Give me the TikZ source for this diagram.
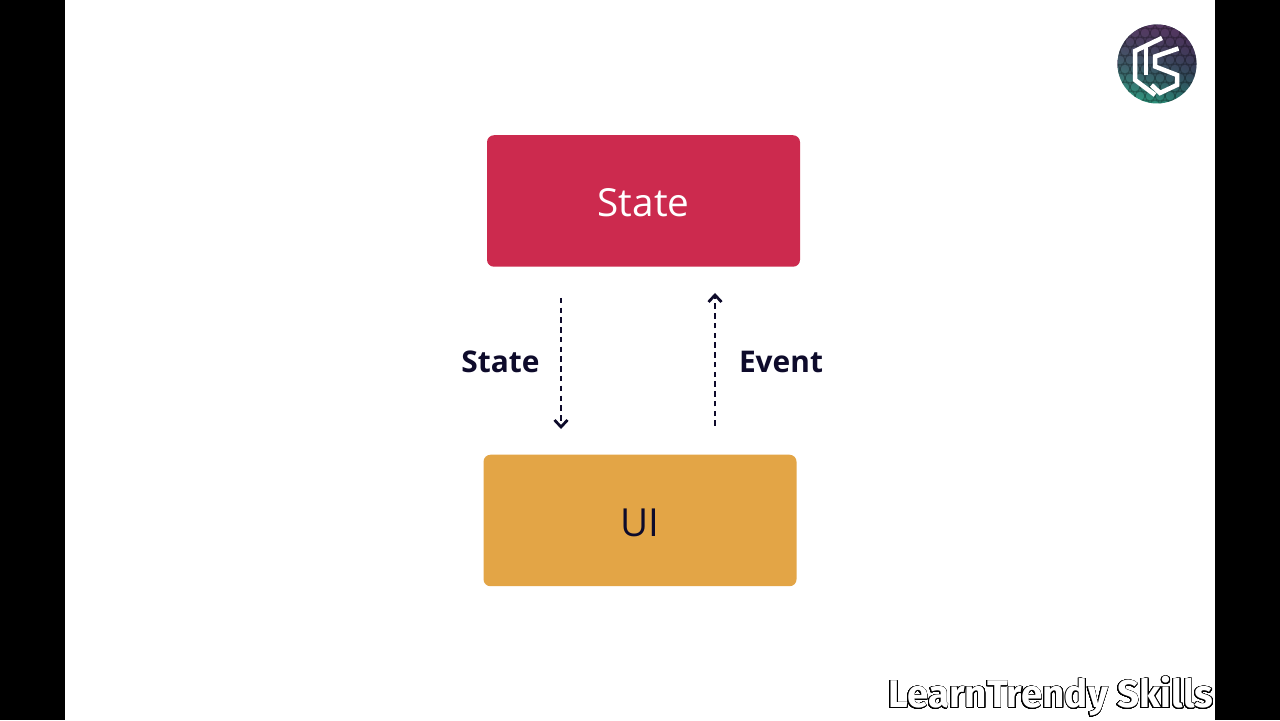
\documentclass[tikz,border=0pt]{standalone}
\usepackage{fontspec}
\usepackage[copies]{contour}
\setmainfont{Open Sans}
\newfontfamily\wmfont{Fira Sans}
\usetikzlibrary{calc,fadings}
\definecolor{stateRed}{HTML}{CC2A4E}
\definecolor{uiOrange}{HTML}{E3A546}
\definecolor{inkBlue}{HTML}{0E0B2B}
\definecolor{logoDark}{HTML}{16263F}
\definecolor{logoPlum}{HTML}{5E3A66}
\definecolor{logoTeal}{HTML}{2F9A80}
\tikzset{
	box/.style={rounded corners=0.14cm, minimum width=6.26cm, minimum height=2.63cm, inner sep=0pt, text height=0.64cm, text depth=0cm, font=\fontsize{22}{26}\selectfont},
	flowlabel/.style={inner sep=0pt, text=inkBlue, font=\fontsize{17}{20}\selectfont\bfseries},
	flowline/.style={line width=0.058cm, color=inkBlue, dash pattern=on 0.11cm off 0.085cm},
	flowtip/.style={line width=0.055cm, color=inkBlue, line join=miter},
	logoline/.style={line width=0.09cm, color=white, line join=miter}
}
\contourlength{0.45pt}
\contournumber{32}
\begin{document}
\begin{tikzpicture}
		%%%%% START %%%%%
		\useasboundingbox (0, 0) rectangle (25.6, 14.4);
		\fill[white] (0, 0) rectangle (25.6, 14.4);
		\fill[black] (0, 0) rectangle (1.3, 14.4);
		\fill[black] (24.3, 0) rectangle (25.6, 14.4);
		
		\node[box, fill=stateRed, text=white] (stateBox) at (12.87, 10.38) {State};
		\node[box, fill=uiOrange, text=inkBlue] (uiBox) at (12.8, 3.99) {UI};
		
		\node[flowlabel] (stateLabel) at (10.01, 7.16) {State};
		\node[flowlabel] (eventLabel) at (15.62, 7.16) {Event};
		
		\coordinate (stateStart) at (11.22, 8.44);
		\coordinate (stateEnd) at (11.22, 5.86);
		\coordinate (eventStart) at (14.3, 5.88);
		\coordinate (eventEnd) at (14.3, 8.5);
		
		\draw[flowline] (stateStart) -- (stateEnd);
		\draw[flowtip] ($(stateEnd)+(-0.13, 0.14)$) -- (stateEnd) -- ($(stateEnd)+(0.13, 0.14)$);
		\draw[flowline] (eventStart) -- (eventEnd);
		\draw[flowtip] ($(eventEnd)+(-0.13, -0.14)$) -- (eventEnd) -- ($(eventEnd)+(0.13, -0.14)$);
		
		% logo
		\coordinate (logoMid) at (23.14, 13.12);
		\shade[left color=logoDark, right color=logoTeal, shading angle=-35] (logoMid) circle (0.79);
		\shade[top color=logoPlum, bottom color=logoPlum, path fading=south, opacity=0.9] (logoMid) circle (0.79);
		\begin{scope}
			\clip (logoMid) circle (0.79);
			\foreach \i in {0,...,9}
				\foreach \j in {0,...,9}
					\draw[line width=0.02cm, color=black, opacity=0.3] ($(22.3, 12.3)+({\i*0.2+0.1*mod(\j,2)}, {\j*0.18})$) circle (0.1);
		\end{scope}
		\draw[logoline] (23.24, 13.64) -- (22.7, 13.38) -- (22.7, 12.8) -- (23.1, 12.5);
		\draw[logoline] (22.92, 13.5) -- (22.92, 12.9);
		\draw[logoline] (23.57, 13.43) -- (23.1, 13.27) -- (23.1, 13.07) -- (23.54, 12.9) -- (23.54, 12.7) -- (23.2, 12.54) -- (23.03, 12.7);
		
		% watermark
		\node[inner sep=0pt, anchor=east] (skillsMark) at (24.27, 0.46) {\fontsize{22}{26}\selectfont\wmfont\bfseries\contour{black}{\textcolor{white}{LearnTrendy Skills}}};
		%%%%% END %%%%%
	\end{tikzpicture}
\end{document}
